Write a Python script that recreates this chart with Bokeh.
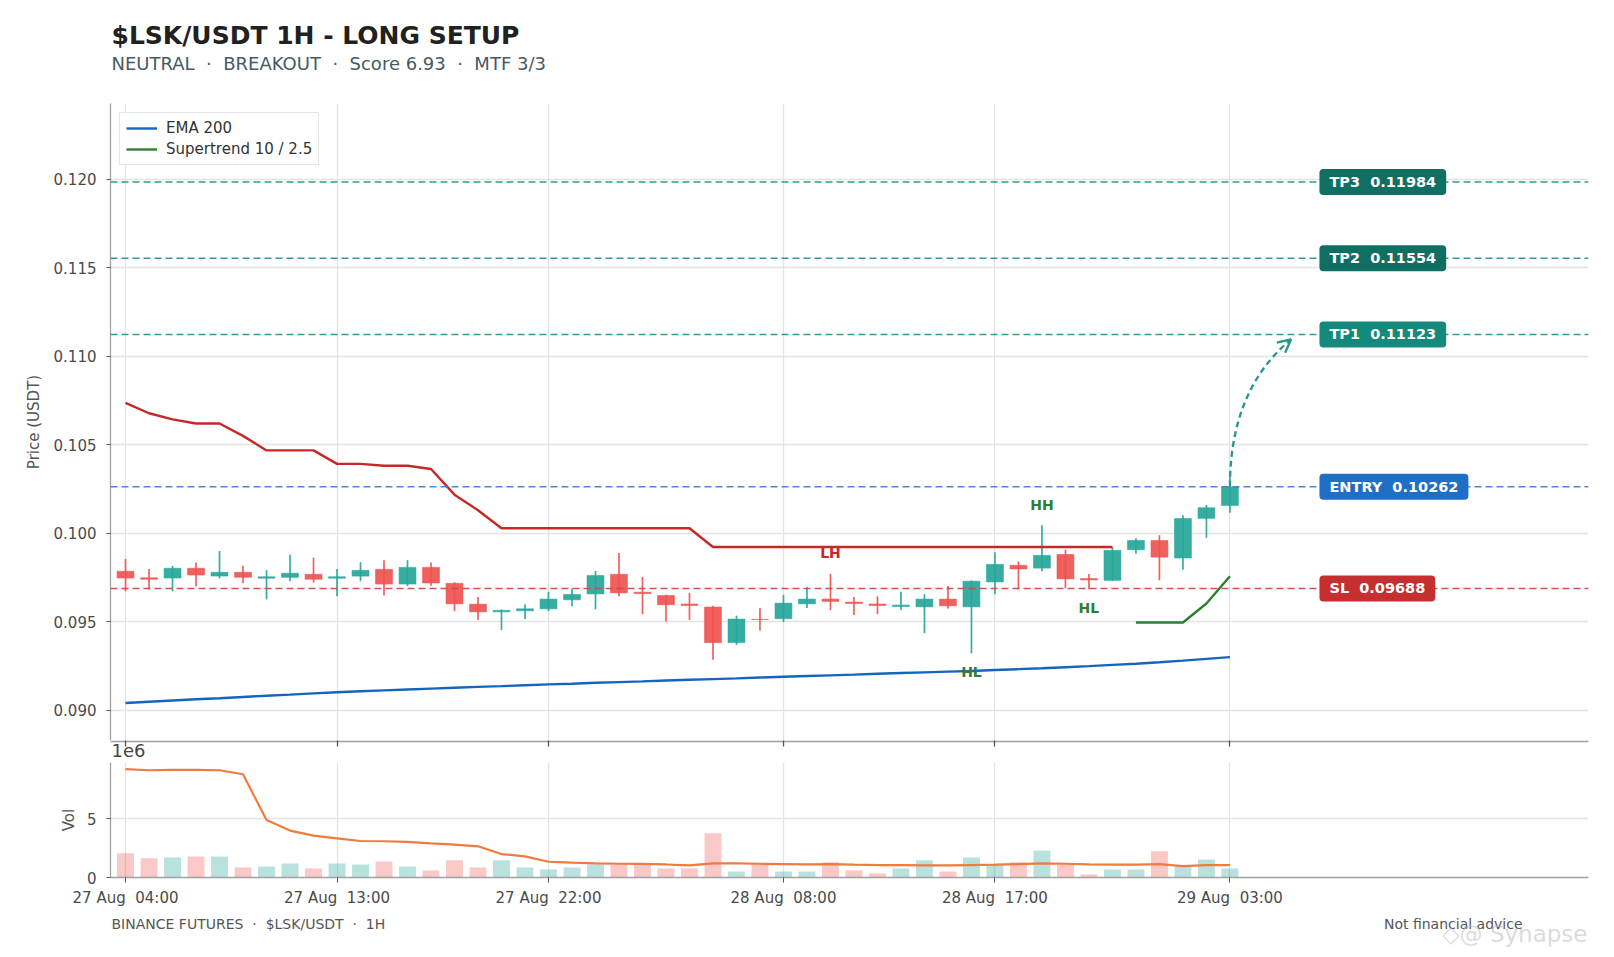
from bokeh.plotting import figure
from bokeh.models import (FixedTicker, Label, Arrow, OpenHead, Legend, LegendItem, LinearAxis,
                          Span, Title, Range1d, NumeralTickFormatter, CustomLabelingPolicy)
from bokeh.layouts import column
from bokeh.embed import file_html
from bokeh.resources import INLINE

FONT = "DejaVu Sans"
NB = "\u00a0"

# ---------------- data ----------------
idx = list(range(48))
opens = [0.09785, 0.09748, 0.09747, 0.09802, 0.09758, 0.09779, 0.09746, 0.09751, 0.09768, 0.09746,
         0.09758, 0.09796, 0.09713, 0.09807, 0.09717, 0.09599, 0.09556, 0.09562, 0.09573, 0.09624,
         0.09657, 0.09768, 0.09667, 0.09648, 0.09600, 0.09583, 0.09382, 0.09513, 0.09517, 0.09601,
         0.09628, 0.09611, 0.09600, 0.09586, 0.09584, 0.09628, 0.09584, 0.09725, 0.09819, 0.09803,
         0.09880, 0.09744, 0.09734, 0.09907, 0.09959, 0.09860, 0.10084, 0.10157]
highs = [0.09854, 0.09798, 0.09817, 0.09834, 0.09899, 0.09817, 0.09792, 0.09879, 0.09862, 0.09798,
         0.09837, 0.09848, 0.09848, 0.09834, 0.09723, 0.09640, 0.09570, 0.09599, 0.09669, 0.09688,
         0.09787, 0.09888, 0.09753, 0.09652, 0.09663, 0.09590, 0.09534, 0.09576, 0.09652, 0.09697,
         0.09770, 0.09640, 0.09644, 0.09669, 0.09656, 0.09702, 0.09733, 0.09893, 0.09841, 0.10045,
         0.09907, 0.09770, 0.09921, 0.09972, 0.09989, 0.10101, 0.10160, 0.10320]
lows = [0.09672, 0.09682, 0.09672, 0.09699, 0.09744, 0.09717, 0.09626, 0.09729, 0.09721, 0.09644,
        0.09729, 0.09648, 0.09701, 0.09704, 0.09560, 0.09510, 0.09453, 0.09515, 0.09560, 0.09588,
        0.09571, 0.09644, 0.09543, 0.09502, 0.09510, 0.09285, 0.09369, 0.09450, 0.09498, 0.09577,
        0.09566, 0.09538, 0.09543, 0.09566, 0.09435, 0.09575, 0.09322, 0.09656, 0.09684, 0.09785,
        0.09689, 0.09684, 0.09730, 0.09884, 0.09734, 0.09794, 0.09974, 0.10116]
closes = [0.09747, 0.09740, 0.09802, 0.09764, 0.09779, 0.09751, 0.09754, 0.09774, 0.09740, 0.09754,
          0.09790, 0.09713, 0.09807, 0.09719, 0.09601, 0.09556, 0.09564, 0.09573, 0.09628, 0.09654,
          0.09761, 0.09663, 0.09659, 0.09596, 0.09592, 0.09382, 0.09515, 0.09513, 0.09605, 0.09628,
          0.09615, 0.09603, 0.09592, 0.09594, 0.09628, 0.09590, 0.09729, 0.09824, 0.09798, 0.09875,
          0.09742, 0.09736, 0.09903, 0.09959, 0.09865, 0.10083, 0.10144, 0.10262]
volumes = [2.06e6, 1.63e6, 1.71e6, 1.80e6, 1.80e6, 0.86e6, 0.94e6, 1.20e6, 0.77e6, 1.20e6,
           1.11e6, 1.37e6, 0.94e6, 0.60e6, 1.46e6, 0.86e6, 1.46e6, 0.86e6, 0.69e6, 0.86e6,
           1.10e6, 1.10e6, 1.23e6, 0.77e6, 0.77e6, 3.77e6, 0.51e6, 1.14e6, 0.51e6, 0.51e6,
           1.29e6, 0.60e6, 0.34e6, 0.77e6, 1.46e6, 0.51e6, 1.71e6, 1.09e6, 1.29e6, 2.31e6,
           1.10e6, 0.26e6, 0.69e6, 0.69e6, 2.23e6, 0.94e6, 1.54e6, 0.77e6]
vol_ma = [9.23e6, 9.14e6, 9.17e6, 9.17e6, 9.14e6, 8.80e6, 4.89e6, 4.00e6, 3.57e6, 3.34e6,
          3.11e6, 3.09e6, 3.03e6, 2.91e6, 2.80e6, 2.66e6, 2.00e6, 1.80e6, 1.34e6, 1.26e6,
          1.20e6, 1.17e6, 1.16e6, 1.11e6, 1.03e6, 1.20e6, 1.20e6, 1.17e6, 1.14e6, 1.11e6,
          1.14e6, 1.09e6, 1.06e6, 1.06e6, 1.03e6, 1.03e6, 1.06e6, 1.09e6, 1.14e6, 1.20e6,
          1.17e6, 1.11e6, 1.09e6, 1.09e6, 1.14e6, 0.97e6, 1.06e6, 1.06e6]
ema200 = [0.09041, 0.09048, 0.09055, 0.09062, 0.09068, 0.09075, 0.09082, 0.09088, 0.09095, 0.09102,
          0.09107, 0.09112, 0.09117, 0.09122, 0.09127, 0.09132, 0.09136, 0.09141, 0.09146, 0.09150,
          0.09155, 0.09159, 0.09163, 0.09168, 0.09172, 0.09176, 0.09180, 0.09185, 0.09189, 0.09193,
          0.09197, 0.09201, 0.09206, 0.09210, 0.09214, 0.09218, 0.09222, 0.09227, 0.09232, 0.09237,
          0.09243, 0.09249, 0.09256, 0.09263, 0.09271, 0.09280, 0.09290, 0.09300]
nan = float("nan")
supertrend = [nan] * 43 + [0.09496, 0.09496, 0.09496, 0.09603, 0.09757]
resistance = [0.10736, 0.10678, 0.10643, 0.10620, 0.10620, 0.10550, 0.10468, 0.10468, 0.10468, 0.10392,
              0.10392, 0.10381, 0.10381, 0.10363, 0.10218, 0.10130, 0.10028, 0.10028, 0.10028, 0.10028,
              0.10028, 0.10028, 0.10028, 0.10028, 0.10028, 0.09922, 0.09922, 0.09922, 0.09922, 0.09922,
              0.09922, 0.09922, 0.09922, 0.09922, 0.09922, 0.09922, 0.09922, 0.09922, 0.09922, 0.09922,
              0.09922, 0.09922, 0.09922] + [nan] * 5

level_names = ["TP3", "TP2", "TP1", "ENTRY", "SL"]
level_values = [0.11984, 0.11554, 0.11123, 0.10262, 0.09688]
level_line_colors = ["#26968a", "#26968a", "#26968a", "#3f83d0", "#d04848"]
level_box_colors = ["#0f6f62", "#0f6f62", "#138a7c", "#1f6fc6", "#c62f2f"]

struct_labels = ["LH", "HH", "HL", "HL"]
struct_x = [30, 39, 41, 36]
struct_y = [0.09888, 0.10162, 0.09580, 0.09218]
struct_colors = ["#c62828", "#2e7d32", "#2e7d32", "#2e7d32"]

tick_idx = [0, 9, 18, 28, 37, 47]
tick_labels = ["27 Aug  04:00", "27 Aug  13:00", "27 Aug  22:00",
               "28 Aug  08:00", "28 Aug  17:00", "29 Aug  03:00"]
price_ticks = [0.090, 0.095, 0.100, 0.105, 0.110, 0.115, 0.120]

TITLE = "$LSK/USDT 1H - LONG SETUP"
SUBTITLE = "NEUTRAL  \u00b7  BREAKOUT  \u00b7  Score 6.93  \u00b7  MTF 3/3"
FOOTER_LEFT = "BINANCE FUTURES  \u00b7  $LSK/USDT  \u00b7  1H"
FOOTER_RIGHT = "Not financial advice"
WATERMARK = "\u25c7@ Synapse"


def nb(s):
    return s.replace(" ", NB)


GREEN = "#26a69a"
RED = "#ef5350"
colors = [GREEN if c > o else RED for o, c in zip(opens, closes)]
body_top = [max(o, c) for o, c in zip(opens, closes)]
body_bot = [min(o, c) for o, c in zip(opens, closes)]

W = 1606
X_RANGE = (-0.64, 62.26)
AXIS_COL = "#a0a0a0"
GRID_COL = "#e3e3e3"
TICK_TXT = "#4a4a4a"
BL, BR = 110, 18
HIDE_LABELS = "for (const i of [...indices]) { indices.unset(i) }"


def bare(fig):
    fig.axis.visible = False
    fig.grid.visible = False
    fig.outline_line_color = None
    return fig


def style_y(ax, label, standoff):
    ax.axis_label = label
    ax.axis_label_text_font = FONT
    ax.axis_label_text_font_size = "15px"
    ax.axis_label_text_font_style = "normal"
    ax.axis_label_text_color = "#555555"
    ax.axis_label_standoff = standoff
    ax.major_label_text_font = FONT
    ax.major_label_text_font_size = "15px"
    ax.major_label_text_color = TICK_TXT
    ax.major_label_standoff = 10
    ax.major_tick_out = 4
    ax.major_tick_in = 0
    ax.minor_tick_line_color = None
    ax.axis_line_color = AXIS_COL
    ax.axis_line_width = 1.3
    ax.major_tick_line_color = "#555555"


# ---------------- header (frame spans page x 110..1588) ----------------
hdr = bare(figure(width=W, height=103, x_range=Range1d(BL, W - BR), y_range=Range1d(0, 103),
                  output_backend="svg", toolbar_location=None, min_border=0,
                  min_border_left=BL, min_border_right=BR))
hdr.add_layout(Label(x=111, y=68, text=nb(TITLE), text_align="left", text_baseline="middle",
                     text_font=FONT, text_font_size="25px", text_font_style="bold",
                     text_color="#212121"))
hdr.add_layout(Label(x=111, y=40, text=nb(SUBTITLE), text_align="left", text_baseline="middle",
                     text_font=FONT, text_font_size="18px", text_color="#455a64"))

# ---------------- main price panel ----------------
p = figure(width=W, height=637, x_range=Range1d(*X_RANGE),
           y_range=Range1d(0.08829, 0.12428),
           output_backend="svg", toolbar_location=None,
           min_border_left=BL, min_border_right=BR, min_border_top=0,
           min_border_bottom=0)
p.outline_line_color = None
p.xaxis.visible = False

p.yaxis.ticker = FixedTicker(ticks=price_ticks)
p.yaxis.formatter = NumeralTickFormatter(format="0.000")
style_y(p.yaxis[0], "Price (USDT)", 8)

p.xgrid.ticker = FixedTicker(ticks=tick_idx)
p.xgrid.grid_line_color = GRID_COL
p.xgrid.grid_line_width = 1.3
p.ygrid.grid_line_color = GRID_COL
p.ygrid.grid_line_width = 1.3

for name, val, lc in zip(level_names, level_values, level_line_colors):
    p.add_layout(Span(location=val, dimension="width", line_color=lc,
                      line_dash="7 4", line_width=1.5, line_alpha=0.95))

p.segment(x0=idx, y0=lows, x1=idx, y1=highs, line_color=colors,
          line_width=1.7, line_alpha=0.92)
p.vbar(x=idx, width=0.72, top=body_top, bottom=body_bot, fill_color=colors,
       fill_alpha=0.92, line_color=colors, line_alpha=0.92, line_width=0.6)

res_r = p.line(idx, resistance, line_color="#c62828", line_width=2.4)
ema_r = p.line(idx, ema200, line_color="#1565c0", line_width=2.4)
st_r = p.line(idx, supertrend, line_color="#2e7d32", line_width=2.4)

for t, x, y, c in zip(struct_labels, struct_x, struct_y, struct_colors):
    p.add_layout(Label(x=x, y=y, text=t, text_align="center", text_baseline="middle",
                       text_font=FONT, text_font_size="14px", text_font_style="bold",
                       text_color=c))

# projection arrow from entry to TP1
arrow_x0, arrow_y0 = idx[-1], level_values[3]
arrow_x1, arrow_y1 = 49.6, level_values[2] - 0.00028
ctrl_x, ctrl_y = idx[-1], 0.1081
p.quadratic(x0=[arrow_x0], y0=[arrow_y0], x1=[arrow_x1], y1=[arrow_y1],
            cx=[ctrl_x], cy=[ctrl_y], line_color="#26968a", line_width=2.3,
            line_dash="6 4")
p.add_layout(Arrow(end=OpenHead(size=13, line_color="#26968a", line_width=2.3),
                   x_start=arrow_x1 - 0.1 * (arrow_x1 - ctrl_x),
                   y_start=arrow_y1 - 0.1 * (arrow_y1 - ctrl_y),
                   x_end=arrow_x1, y_end=arrow_y1, line_alpha=0.0))

# level tags (box left edge at LABEL_X)
LABEL_X = 50.81
for name, val, bc in zip(level_names, level_values, level_box_colors):
    p.add_layout(Label(x=LABEL_X, y=val, text=f"{name}{NB}{NB}{val:.5f}",
                       text_align="left", text_baseline="middle",
                       text_font=FONT, text_font_size="14.5px", text_font_style="bold",
                       text_color="white", background_fill_color=bc,
                       background_fill_alpha=1.0, padding=(10, 5), border_radius=4))

legend = Legend(items=[LegendItem(label="EMA 200", renderers=[ema_r]),
                       LegendItem(label="Supertrend 10 / 2.5", renderers=[st_r])],
                location="top_left")
legend.label_text_font = FONT
legend.label_text_font_size = "15px"
legend.label_text_color = "#333333"
legend.glyph_width = 31
legend.glyph_height = 18
legend.label_height = 18
legend.label_standoff = 9
legend.spacing = 3
legend.padding = 6
legend.margin = 9
legend.border_line_color = "#cccccc"
legend.border_line_width = 1.2
legend.background_fill_alpha = 0.9
p.add_layout(legend)

# ---------------- volume panel ----------------
p2 = figure(width=W, height=173, x_range=p.x_range, y_range=Range1d(0, 9.8e6),
            output_backend="svg", toolbar_location=None,
            min_border_left=BL, min_border_right=BR, min_border_top=0,
            min_border_bottom=36)
p2.outline_line_color = None
bx = p2.below[0]

# offset label of the volume axis, sitting just under the price panel
p2.add_layout(Title(text="1e6", align="left", text_font=FONT, text_font_size="18px",
                    text_font_style="normal", text_color="#444444", offset=1,
                    standoff=0, padding=dict(left=0, right=0, top=0, bottom=6)), "above")
# bottom spine + ticks of the price panel (drawn here, above the offset label)
spine = LinearAxis(ticker=FixedTicker(ticks=tick_idx),
                   major_label_policy=CustomLabelingPolicy(code=HIDE_LABELS),
                   major_label_text_font_size="0px", major_label_standoff=0,
                   major_tick_out=1, major_tick_in=5, minor_tick_line_color=None,
                   axis_line_color=AXIS_COL, axis_line_width=1.3,
                   major_tick_line_color="#555555", major_tick_line_width=1.3)
p2.add_layout(spine, "above")

p2.vbar(x=idx, width=0.72, top=volumes, bottom=0, fill_color=colors,
        fill_alpha=0.32, line_color=None)
p2.line(idx, vol_ma, line_color="#f07b3f", line_width=2.2)

bx.ticker = FixedTicker(ticks=tick_idx)
bx.major_label_overrides = {i: nb(s) for i, s in zip(tick_idx, tick_labels)}
bx.major_label_text_font = FONT
bx.major_label_text_font_size = "15px"
bx.major_label_text_color = TICK_TXT
bx.major_label_standoff = 6
bx.major_tick_out = 5
bx.major_tick_in = 0
bx.minor_tick_line_color = None
bx.axis_line_color = AXIS_COL
bx.axis_line_width = 1.3
bx.major_tick_line_color = "#555555"

p2.yaxis.ticker = FixedTicker(ticks=[0, 5000000])
p2.yaxis.major_label_overrides = {0: "0", 5000000: "5"}
style_y(p2.yaxis[0], "Vol", 6)

p2.xgrid.ticker = FixedTicker(ticks=tick_idx)
p2.xgrid.grid_line_color = GRID_COL
p2.xgrid.grid_line_width = 1.3
p2.ygrid.grid_line_color = GRID_COL
p2.ygrid.grid_line_width = 1.3

# ---------------- footer (frame spans page x 110..1588) ----------------
ftr = bare(figure(width=W, height=36, x_range=Range1d(BL, W - BR), y_range=Range1d(0, 36),
                  output_backend="svg", toolbar_location=None, min_border=0,
                  min_border_left=BL, min_border_right=BR))
ftr.add_layout(Label(x=111, y=26, text=nb(FOOTER_LEFT), text_align="left",
                     text_baseline="middle", text_font=FONT, text_font_size="14px",
                     text_color="#555555"))
ftr.add_layout(Label(x=1522, y=26, text=nb(FOOTER_RIGHT), text_align="right",
                     text_baseline="middle", text_font=FONT, text_font_size="14px",
                     text_color="#555555"))
ftr.add_layout(Label(x=1587, y=16, text=nb(WATERMARK), text_align="right",
                     text_baseline="middle", text_font=FONT, text_font_size="23px",
                     text_color="#bdbdbd", text_alpha=0.55))

layout = column(hdr, p, p2, ftr, spacing=0)
open("out.html", "w").write(file_html(layout, INLINE))
